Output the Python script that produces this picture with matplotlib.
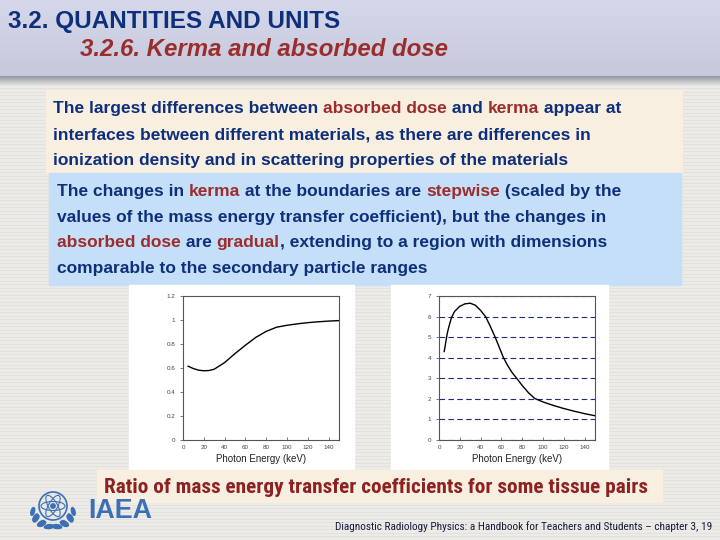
import matplotlib
matplotlib.use('Agg')
import matplotlib.pyplot as plt
from matplotlib import font_manager
from matplotlib.patches import Rectangle, Ellipse, Circle
import numpy as np

# curve 1: ratio of mass energy transfer coefficients (left panel)
energy_left = [5, 10, 15, 20, 25, 30, 40, 50, 60, 70, 80, 90, 100, 110, 120, 130, 140, 150]
ratio_left = [0.615, 0.595, 0.582, 0.577, 0.579, 0.59, 0.645, 0.72, 0.79, 0.855, 0.905,
              0.94, 0.956, 0.968, 0.978, 0.985, 0.991, 0.995]

# curve 2: ratio for the second tissue pair (right panel)
energy_right = [5, 8, 10, 12, 15, 20, 25, 30, 35, 40, 45, 50, 54, 58, 62, 66, 70, 75, 80,
                86, 92, 100, 110, 120, 130, 140, 150]
ratio_right = [4.3, 5.2, 5.6, 5.95, 6.25, 6.5, 6.62, 6.65, 6.55, 6.3, 5.98, 5.45, 5.0, 4.5,
               4.0, 3.62, 3.3, 2.98, 2.65, 2.3, 2.02, 1.85, 1.68, 1.53, 1.4, 1.28, 1.18]

ticks_x = [0, 20, 40, 60, 80, 100, 120, 140]
ticks_left_y = [0, 0.2, 0.4, 0.6, 0.8, 1, 1.2]
ticklabels_left_y = ['0', '0.2', '0.4', '0.6', '0.8', '1', '1.2']
ticks_right_y = [0, 1, 2, 3, 4, 5, 6, 7]

title = '3.2. QUANTITIES AND UNITS'
subtitle = '3.2.6. Kerma and absorbed dose'
NAVY = '#0e2f7c'
RED = '#9b2d2d'
box1_lines = [
    [('The largest differences between ', NAVY), ('absorbed dose', RED), (' and ', NAVY),
     ('kerma', RED), (' appear at', NAVY)],
    [('interfaces between different materials, as there are differences in', NAVY)],
    [('ionization density and in scattering properties of the materials', NAVY)],
]
box2_lines = [
    [('The changes in ', NAVY), ('kerma', RED), (' at the boundaries are ', NAVY),
     ('stepwise', RED), (' (scaled by the', NAVY)],
    [('values of the mass energy transfer coefficient), but the changes in', NAVY)],
    [('absorbed dose', RED), (' are ', NAVY), ('gradual', RED),
     (', extending to a region with dimensions', NAVY)],
    [('comparable to the secondary particle ranges', NAVY)],
]
caption = 'Ratio of mass energy transfer coefficients for some tissue pairs'
footer = 'Diagnostic Radiology Physics: a Handbook for Teachers and Students \u2013 chapter 3, 19'

# caption and footer use a narrow face on the slide
narrow_font = {'family': ['Liberation Sans', 'DejaVu Sans']}
found = {}
for f in font_manager.fontManager.ttflist:
    if 'Narrow' in f.name or 'Condensed' in f.name or f.stretch in ('condensed', 'semi-condensed'):
        found.setdefault(f.name, f.stretch)
for pref in ['Liberation Sans Narrow', 'Arial Narrow', 'Roboto Condensed', 'Open Sans Condensed',
             'Noto Sans', 'DejaVu Sans Condensed', 'DejaVu Sans', 'Open Sans', 'Roboto']:
    if pref in found:
        narrow_font = {'family': [pref, 'DejaVu Sans'], 'fontstretch': found[pref]}
        break
arial = {'family': ['Liberation Sans', 'DejaVu Sans']}
plt.rcParams['font.family'] = ['Liberation Sans', 'DejaVu Sans']

fig = plt.figure(figsize=(7.2, 5.4), dpi=100)
bg = fig.add_axes([0, 0, 1, 1], zorder=0)
bg.set_xlim(0, 720)
bg.set_ylim(540, 0)
bg.axis('off')
renderer = fig.canvas.get_renderer()


def width_of(s, **kw):
    t = bg.text(0, 0, s + '|', **kw)
    w1 = t.get_window_extent(renderer).width
    t.set_text('|')
    w2 = t.get_window_extent(renderer).width
    t.remove()
    return w1 - w2


def fit_size(s, target, **kw):
    return 10 * target / width_of(s, fontsize=10, **kw)


def draw_line(x, y, parts, **kw):
    for s, c in parts:
        bg.text(x, y, s, color=c, va='baseline', ha='left', **kw)
        x += width_of(s, **kw)


# header band and shadow
grad = np.linspace(0, 1, 80)[:, None]
hdr = np.array([0.835, 0.847, 0.918]) * (1 - grad[..., None]) + np.array([0.78, 0.79, 0.86]) * grad[..., None]
bg.imshow(np.repeat(hdr, 2, axis=1), extent=(0, 720, 76, 0), aspect='auto', zorder=0)
shadow = np.linspace(0, 1, 20)[:, None, None]
sh = np.array([0.58, 0.60, 0.64]) * (1 - shadow) + np.array([0.90, 0.90, 0.89]) * shadow
bg.imshow(np.repeat(sh, 2, axis=1), extent=(0, 720, 86, 76), aspect='auto', zorder=0)
bg.add_patch(Rectangle((0, 86), 720, 454, color='#ecebe7', zorder=0))
for yy in np.arange(88, 540, 3.5):
    bg.plot([0, 720], [yy, yy], color='#e2e0db', lw=0.6, zorder=0.5)

# title
kw_t = dict(fontweight='bold', **arial)
bg.text(8, 28, title, color=NAVY, fontsize=fit_size(title, 330, **kw_t), va='baseline', **kw_t)
kw_s = dict(fontweight='bold', style='italic', **arial)
bg.text(80, 56, subtitle, color=RED, fontsize=fit_size(subtitle, 369, **kw_s), va='baseline', **kw_s)

# text boxes
bg.add_patch(Rectangle((46, 90), 636, 83, color='#f9efe1', zorder=1))
bg.add_patch(Rectangle((49, 173), 632, 112, color='#c5dff8', zorder=1))
kw_b = dict(fontweight='bold', zorder=3, **arial)
fs = fit_size(''.join(s for s, c in box1_lines[0]), 566, **kw_b)
kw_b['fontsize'] = fs
for i, parts in enumerate(box1_lines):
    draw_line(53, 113 + 26 * i, parts, **kw_b)
for i, parts in enumerate(box2_lines):
    draw_line(57, 196 + 25.7 * i, parts, **kw_b)

# white panels under the plots
bg.add_patch(Rectangle((129, 285), 225, 185, color='white', zorder=1))
bg.add_patch(Rectangle((391, 285), 217, 185, color='white', zorder=1))

# caption
bg.add_patch(Rectangle((97, 470), 565, 32, color='#f9efe1', zorder=1))
kw_c = dict(fontweight='bold', zorder=3, **narrow_font)
bg.text(104, 493, caption, color='#8c2222', fontsize=fit_size(caption, 544, **kw_c), va='baseline', **kw_c)

# IAEA logo
LOGO = '#3d6fb6'
cx, cy = 53, 506
bg.add_patch(Circle((cx, cy), 14, fill=False, ec=LOGO, lw=1.2, zorder=3))
for ang in (0, 60, 120):
    bg.add_patch(Ellipse((cx, cy), 24, 9, angle=ang, fill=False, ec=LOGO, lw=0.8, zorder=3))
bg.add_patch(Circle((cx, cy), 2.2, color=LOGO, zorder=3))
for side in (-1, 1):
    for k in range(7):
        a = np.radians(195 + 22 * k) if side < 0 else np.radians(-15 - 22 * k)
        bg.add_patch(Ellipse((cx + 21 * np.cos(a), cy - 21 * np.sin(a)), 8, 3.4,
                             angle=np.degrees(a) + 90, color=LOGO, zorder=3))
kw_l = dict(fontweight='bold', zorder=3, **arial)
bg.text(88, 518, 'IAEA', color=LOGO, fontsize=fit_size('IAEA', 64, **kw_l), va='baseline', **kw_l)

# footer
kw_f = dict(zorder=3, **narrow_font)
bg.text(712, 530, footer, color='#1a1a3a', ha='right', fontsize=fit_size(footer, 377, **kw_f),
        va='baseline', **kw_f)


def style_axes(ax):
    ax.set_xlim(0, 150)
    ax.set_xticks(ticks_x)
    ax.tick_params(labelsize=4.5, labelcolor='#444444', length=2, width=0.5, color='#444444')
    ax.tick_params(axis='x', direction='in')
    for sp in ax.spines.values():
        sp.set_color('#555555')
        sp.set_linewidth(0.8)
    ax.set_xlabel('Photon Energy (keV)', fontsize=7, color='#222222', labelpad=3, **arial)


ax1 = fig.add_axes([183 / 720, 1 - 440 / 540, 156 / 720, 144 / 540], zorder=2)
ax1.plot(energy_left, ratio_left, color='black', lw=1.0)
ax1.set_ylim(0, 1.2)
ax1.set_yticks(ticks_left_y)
ax1.set_yticklabels(ticklabels_left_y)
style_axes(ax1)

ax2 = fig.add_axes([439 / 720, 1 - 440 / 540, 156 / 720, 144 / 540], zorder=2)
ax2.plot(energy_right, ratio_right, color='black', lw=1.0, zorder=3)
ax2.set_ylim(0, 7)
ax2.set_yticks(ticks_right_y)
ax2.set_xticks([40, 80, 120], minor=True)
ax2.grid(True, which='major', axis='y', color='#1c2a80', ls=(0, (5, 3)), lw=0.8)
ax2.grid(True, which='minor', axis='x', color='#1c2a80', ls=(0, (5, 3)), lw=0.8)
style_axes(ax2)
ax2.tick_params(which='minor', length=0)

fig.savefig('out.png', dpi=100)
